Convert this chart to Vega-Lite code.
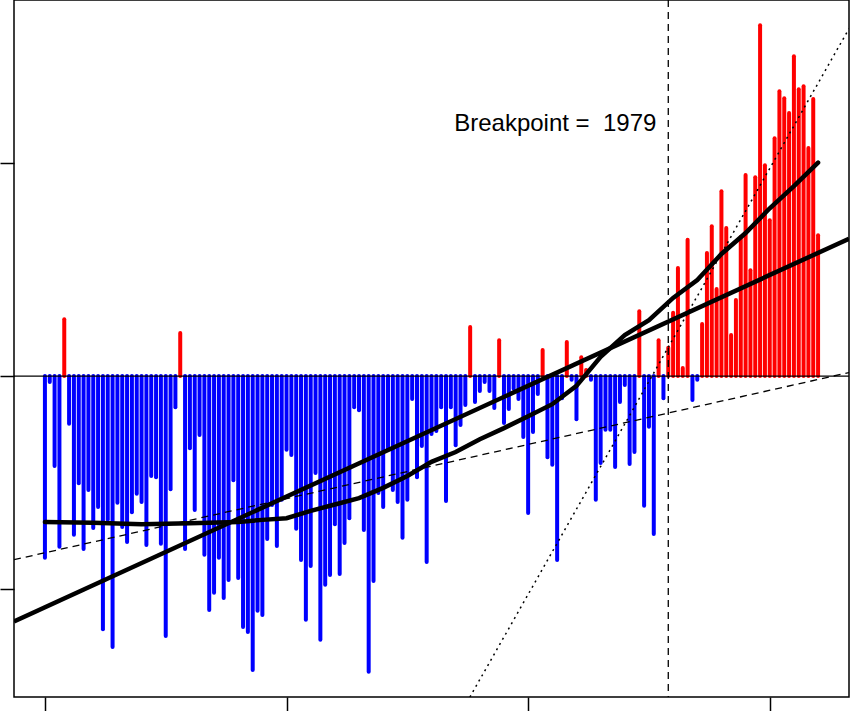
{
  "$schema": "https://vega.github.io/schema/vega-lite/v6.json",
  "width": 835,
  "height": 697,
  "autosize": "none",
  "padding": {"left": 14, "top": 0, "right": 1, "bottom": 14},
  "background": "white",
  "datasets": {
    "temp": [
      {"year": 1850, "anomaly": -0.426}, {"year": 1851, "anomaly": -0.014}, {"year": 1852, "anomaly": -0.211},
      {"year": 1853, "anomaly": -0.400}, {"year": 1854, "anomaly": 0.133}, {"year": 1855, "anomaly": -0.112},
      {"year": 1856, "anomaly": -0.372}, {"year": 1857, "anomaly": -0.251}, {"year": 1858, "anomaly": -0.405},
      {"year": 1859, "anomaly": -0.267}, {"year": 1860, "anomaly": -0.356}, {"year": 1861, "anomaly": -0.307},
      {"year": 1862, "anomaly": -0.593}, {"year": 1863, "anomaly": -0.337}, {"year": 1864, "anomaly": -0.635},
      {"year": 1865, "anomaly": -0.297}, {"year": 1866, "anomaly": -0.354}, {"year": 1867, "anomaly": -0.389},
      {"year": 1868, "anomaly": -0.319}, {"year": 1869, "anomaly": -0.276}, {"year": 1870, "anomaly": -0.295},
      {"year": 1871, "anomaly": -0.396}, {"year": 1872, "anomaly": -0.234}, {"year": 1873, "anomaly": -0.237},
      {"year": 1874, "anomaly": -0.393}, {"year": 1875, "anomaly": -0.609}, {"year": 1876, "anomaly": -0.265},
      {"year": 1877, "anomaly": -0.073}, {"year": 1878, "anomaly": 0.101}, {"year": 1879, "anomaly": -0.405},
      {"year": 1880, "anomaly": -0.169}, {"year": 1881, "anomaly": -0.314}, {"year": 1882, "anomaly": -0.138},
      {"year": 1883, "anomaly": -0.419}, {"year": 1884, "anomaly": -0.548}, {"year": 1885, "anomaly": -0.508},
      {"year": 1886, "anomaly": -0.426}, {"year": 1887, "anomaly": -0.520}, {"year": 1888, "anomaly": -0.478},
      {"year": 1889, "anomaly": -0.244}, {"year": 1890, "anomaly": -0.473}, {"year": 1891, "anomaly": -0.588},
      {"year": 1892, "anomaly": -0.600}, {"year": 1893, "anomaly": -0.689}, {"year": 1894, "anomaly": -0.550},
      {"year": 1895, "anomaly": -0.560}, {"year": 1896, "anomaly": -0.382}, {"year": 1897, "anomaly": -0.302},
      {"year": 1898, "anomaly": -0.398}, {"year": 1899, "anomaly": -0.290}, {"year": 1900, "anomaly": -0.173},
      {"year": 1901, "anomaly": -0.185}, {"year": 1902, "anomaly": -0.358}, {"year": 1903, "anomaly": -0.431},
      {"year": 1904, "anomaly": -0.571}, {"year": 1905, "anomaly": -0.445}, {"year": 1906, "anomaly": -0.227},
      {"year": 1907, "anomaly": -0.618}, {"year": 1908, "anomaly": -0.489}, {"year": 1909, "anomaly": -0.466},
      {"year": 1910, "anomaly": -0.347}, {"year": 1911, "anomaly": -0.464}, {"year": 1912, "anomaly": -0.391},
      {"year": 1913, "anomaly": -0.333}, {"year": 1914, "anomaly": -0.073}, {"year": 1915, "anomaly": -0.080},
      {"year": 1916, "anomaly": -0.361}, {"year": 1917, "anomaly": -0.693}, {"year": 1918, "anomaly": -0.480},
      {"year": 1919, "anomaly": -0.274}, {"year": 1920, "anomaly": -0.307}, {"year": 1921, "anomaly": -0.173},
      {"year": 1922, "anomaly": -0.267}, {"year": 1923, "anomaly": -0.295}, {"year": 1924, "anomaly": -0.379},
      {"year": 1925, "anomaly": -0.290}, {"year": 1926, "anomaly": -0.054}, {"year": 1927, "anomaly": -0.237},
      {"year": 1928, "anomaly": -0.164}, {"year": 1929, "anomaly": -0.436}, {"year": 1930, "anomaly": -0.136},
      {"year": 1931, "anomaly": -0.129}, {"year": 1932, "anomaly": -0.073}, {"year": 1933, "anomaly": -0.293},
      {"year": 1934, "anomaly": -0.073}, {"year": 1935, "anomaly": -0.162}, {"year": 1936, "anomaly": -0.115},
      {"year": 1937, "anomaly": -0.068}, {"year": 1938, "anomaly": 0.115}, {"year": 1939, "anomaly": -0.061},
      {"year": 1940, "anomaly": -0.035}, {"year": 1941, "anomaly": -0.014}, {"year": 1942, "anomaly": -0.035},
      {"year": 1943, "anomaly": -0.075}, {"year": 1944, "anomaly": 0.084}, {"year": 1945, "anomaly": -0.110},
      {"year": 1946, "anomaly": -0.077}, {"year": 1947, "anomaly": -0.030}, {"year": 1948, "anomaly": -0.054},
      {"year": 1949, "anomaly": -0.143}, {"year": 1950, "anomaly": -0.321}, {"year": 1951, "anomaly": -0.131},
      {"year": 1952, "anomaly": -0.042}, {"year": 1953, "anomaly": 0.061}, {"year": 1954, "anomaly": -0.190},
      {"year": 1955, "anomaly": -0.208}, {"year": 1956, "anomaly": -0.431}, {"year": 1957, "anomaly": -0.052},
      {"year": 1958, "anomaly": 0.080}, {"year": 1959, "anomaly": -0.009}, {"year": 1960, "anomaly": -0.101},
      {"year": 1961, "anomaly": 0.044}, {"year": 1962, "anomaly": 0.014}, {"year": 1963, "anomaly": -0.009},
      {"year": 1964, "anomaly": -0.290}, {"year": 1965, "anomaly": -0.204}, {"year": 1966, "anomaly": -0.126},
      {"year": 1967, "anomaly": -0.126}, {"year": 1968, "anomaly": -0.213}, {"year": 1969, "anomaly": -0.061},
      {"year": 1970, "anomaly": -0.021}, {"year": 1971, "anomaly": -0.206}, {"year": 1972, "anomaly": -0.178},
      {"year": 1973, "anomaly": 0.152}, {"year": 1974, "anomaly": -0.304}, {"year": 1975, "anomaly": -0.119},
      {"year": 1976, "anomaly": -0.370}, {"year": 1977, "anomaly": 0.084}, {"year": 1978, "anomaly": -0.052},
      {"year": 1979, "anomaly": 0.066}, {"year": 1980, "anomaly": 0.148}, {"year": 1981, "anomaly": 0.253},
      {"year": 1982, "anomaly": 0.019}, {"year": 1983, "anomaly": 0.319}, {"year": 1984, "anomaly": -0.056},
      {"year": 1985, "anomaly": -0.009}, {"year": 1986, "anomaly": 0.122}, {"year": 1987, "anomaly": 0.288},
      {"year": 1988, "anomaly": 0.351}, {"year": 1989, "anomaly": 0.204}, {"year": 1990, "anomaly": 0.433},
      {"year": 1991, "anomaly": 0.347}, {"year": 1992, "anomaly": 0.096}, {"year": 1993, "anomaly": 0.178},
      {"year": 1994, "anomaly": 0.326}, {"year": 1995, "anomaly": 0.471}, {"year": 1996, "anomaly": 0.248},
      {"year": 1997, "anomaly": 0.466}, {"year": 1998, "anomaly": 0.822}, {"year": 1999, "anomaly": 0.494},
      {"year": 2000, "anomaly": 0.365}, {"year": 2001, "anomaly": 0.557}, {"year": 2002, "anomaly": 0.667},
      {"year": 2003, "anomaly": 0.651}, {"year": 2004, "anomaly": 0.616}, {"year": 2005, "anomaly": 0.749},
      {"year": 2006, "anomaly": 0.672}, {"year": 2007, "anomaly": 0.679}, {"year": 2008, "anomaly": 0.534},
      {"year": 2009, "anomaly": 0.649}, {"year": 2010, "anomaly": 0.330}
    ],
    "smooth": [
      {"year": 1850, "anomaly": -0.342}, {"year": 1860, "anomaly": -0.344}, {"year": 1870, "anomaly": -0.347},
      {"year": 1880, "anomaly": -0.345}, {"year": 1890, "anomaly": -0.342}, {"year": 1895, "anomaly": -0.337},
      {"year": 1900, "anomaly": -0.333}, {"year": 1905, "anomaly": -0.316}, {"year": 1910, "anomaly": -0.301},
      {"year": 1915, "anomaly": -0.286}, {"year": 1920, "anomaly": -0.262}, {"year": 1925, "anomaly": -0.234},
      {"year": 1930, "anomaly": -0.201}, {"year": 1935, "anomaly": -0.178}, {"year": 1940, "anomaly": -0.148},
      {"year": 1945, "anomaly": -0.122}, {"year": 1950, "anomaly": -0.094}, {"year": 1955, "anomaly": -0.066},
      {"year": 1960, "anomaly": -0.023}, {"year": 1965, "anomaly": 0.045}, {"year": 1970, "anomaly": 0.096},
      {"year": 1975, "anomaly": 0.131}, {"year": 1980, "anomaly": 0.183}, {"year": 1985, "anomaly": 0.225},
      {"year": 1990, "anomaly": 0.286}, {"year": 1995, "anomaly": 0.335}, {"year": 2000, "anomaly": 0.393},
      {"year": 2005, "anomaly": 0.445}, {"year": 2010, "anomaly": 0.500}
    ],
    "label": [
      {"year": 1934.7, "anomaly": 0.574, "text": "Breakpoint = \u00a01979"}
    ]
  },
  "layer": [
    {
      "data": {"name": "temp"},
      "mark": {"type": "rule", "strokeWidth": 4, "strokeCap": "round"},
      "encoding": {
        "x": {
          "field": "year",
          "type": "quantitative",
          "title": null,
          "scale": {"domain": [1843.6, 2016.4], "nice": false, "zero": false},
          "axis": {"values": [1850, 1900, 1950, 2000]}
        },
        "y": {
          "field": "anomaly",
          "type": "quantitative",
          "title": null,
          "scale": {"domain": [-0.752, 0.881], "nice": false, "zero": false},
          "axis": {"values": [-0.5, 0, 0.5]}
        },
        "y2": {"datum": 0},
        "color": {
          "condition": {"test": "datum.anomaly > 0", "value": "#ff0000"},
          "value": "#0000ff"
        }
      }
    },
    {
      "data": {"values": [{}]},
      "mark": {"type": "rule", "color": "black", "strokeWidth": 1.3},
      "encoding": {"y": {"datum": 0, "type": "quantitative", "title": null}}
    },
    {
      "data": {"values": [{}]},
      "mark": {"type": "rule", "color": "black", "strokeWidth": 1.3, "strokeDash": [7, 5]},
      "encoding": {"x": {"datum": 1979, "type": "quantitative", "title": null}}
    },
    {
      "data": {"name": "temp"},
      "encoding": {
        "x": {"field": "year", "type": "quantitative", "title": null},
        "y": {"field": "anomaly", "type": "quantitative", "title": null}
      },
      "layer": [
        {
          "transform": [{"regression": "anomaly", "on": "year", "extent": [1843.6, 2016.4]}],
          "mark": {"type": "line", "color": "black", "strokeWidth": 4.5, "clip": true}
        },
        {
          "transform": [
            {"filter": "datum.year < 1979"},
            {"regression": "anomaly", "on": "year", "extent": [1843.6, 2016.4]}
          ],
          "mark": {"type": "line", "color": "black", "strokeWidth": 1.3, "strokeDash": [7, 5], "clip": true}
        },
        {
          "transform": [
            {"filter": "datum.year >= 1979"},
            {"regression": "anomaly", "on": "year", "extent": [1843.6, 2016.4]}
          ],
          "mark": {"type": "line", "color": "black", "strokeWidth": 1.5, "strokeDash": [2, 4], "clip": true}
        }
      ]
    },
    {
      "data": {"name": "smooth"},
      "mark": {"type": "line", "color": "black", "strokeWidth": 4.5, "strokeCap": "round"},
      "encoding": {
        "x": {"field": "year", "type": "quantitative", "title": null},
        "y": {"field": "anomaly", "type": "quantitative", "title": null}
      }
    },
    {
      "data": {"name": "label"},
      "mark": {
        "type": "text",
        "font": "Liberation Sans",
        "fontSize": 24,
        "align": "left",
        "baseline": "alphabetic",
        "color": "black"
      },
      "encoding": {
        "x": {"field": "year", "type": "quantitative", "title": null},
        "y": {"field": "anomaly", "type": "quantitative", "title": null},
        "text": {"field": "text", "type": "nominal"}
      }
    }
  ],
  "config": {
    "view": {"stroke": "black", "strokeWidth": 1.5},
    "axis": {
      "labels": false,
      "domain": false,
      "grid": false,
      "ticks": true,
      "tickSize": 14,
      "tickColor": "black",
      "tickWidth": 1.5
    }
  }
}
